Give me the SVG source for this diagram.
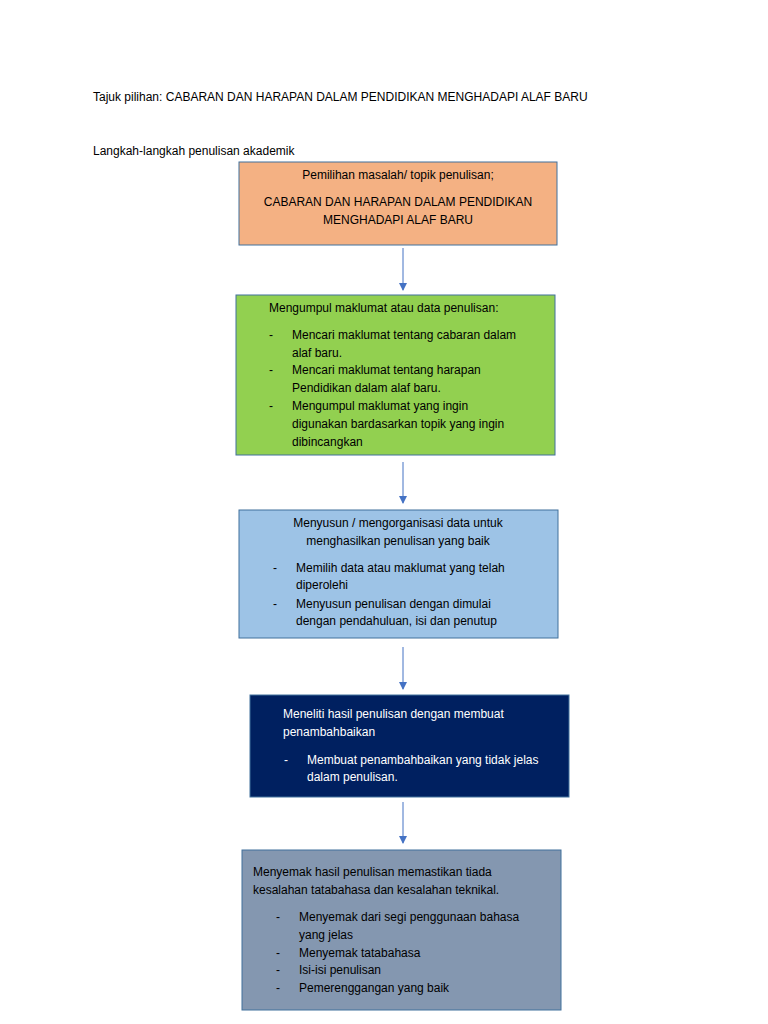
<svg xmlns="http://www.w3.org/2000/svg" width="768" height="1024" viewBox="0 0 768 1024">
<style>
text{font-family:"Liberation Sans",Arial,sans-serif;font-size:12px;fill:#000}
.w{fill:#fff}
.box{stroke:#41719C;stroke-width:1}
.c{stroke:#4472C4;stroke-width:1;fill:none}
</style>
<defs><marker id="ah" markerWidth="8" markerHeight="8" refX="7" refY="4" orient="auto" markerUnits="userSpaceOnUse"><path d="M0,0 L8,4 L0,8 z" fill="#4472C4"/></marker></defs>
<rect width="768" height="1024" fill="#fff"/>
<text x="93" y="101">Tajuk pilihan: CABARAN DAN HARAPAN DALAM PENDIDIKAN MENGHADAPI ALAF BARU</text>
<text x="93" y="155">Langkah-langkah penulisan akademik</text>
<g id="n1"><rect class="box" x="239" y="162" width="318" height="83" fill="#F4B183"/>
<text x="398" y="179" text-anchor="middle">Pemilihan masalah/ topik penulisan;</text>
<text x="398" y="206" text-anchor="middle">CABARAN DAN HARAPAN DALAM PENDIDIKAN</text>
<text x="398" y="224" text-anchor="middle">MENGHADAPI ALAF BARU</text></g>
<g id="n2"><rect class="box" x="236" y="295" width="319" height="160" fill="#92D050"/>
<text x="269" y="312">Mengumpul maklumat atau data penulisan:</text>
<text x="269" y="339">-</text><text x="292" y="339">Mencari maklumat tentang cabaran dalam</text>
<text x="292" y="357">alaf baru.</text>
<text x="269" y="374">-</text><text x="292" y="374">Mencari maklumat tentang harapan</text>
<text x="292" y="392">Pendidikan dalam alaf baru.</text>
<text x="269" y="410">-</text><text x="292" y="410">Mengumpul maklumat yang ingin</text>
<text x="292" y="428">digunakan bardasarkan topik yang ingin</text>
<text x="292" y="446">dibincangkan</text></g>
<g id="n3"><rect class="box" x="239" y="510" width="319" height="128" fill="#9DC3E6"/>
<text x="398" y="527" text-anchor="middle">Menyusun / mengorganisasi data untuk</text>
<text x="398" y="545" text-anchor="middle">menghasilkan penulisan yang baik</text>
<text x="273" y="572">-</text><text x="296" y="572">Memilih data atau maklumat yang telah</text>
<text x="296" y="589">diperolehi</text>
<text x="273" y="608">-</text><text x="296" y="608">Menyusun penulisan dengan dimulai</text>
<text x="296" y="625">dengan pendahuluan, isi dan penutup</text></g>
<g id="n4"><rect class="box" x="250" y="695" width="319" height="102" fill="#002060"/>
<text class="w" x="283" y="718">Meneliti hasil penulisan dengan membuat</text>
<text class="w" x="283" y="736">penambahbaikan</text>
<text class="w" x="284" y="764">-</text><text class="w" x="307" y="764">Membuat penambahbaikan yang tidak jelas</text>
<text class="w" x="307" y="781">dalam penulisan.</text></g>
<g id="n5"><rect class="box" x="242" y="850" width="319" height="160" fill="#8497B0"/>
<text x="253" y="876">Menyemak hasil penulisan memastikan tiada</text>
<text x="253" y="894">kesalahan tatabahasa dan kesalahan teknikal.</text>
<text x="276" y="921">-</text><text x="299" y="921">Menyemak dari segi penggunaan bahasa</text>
<text x="299" y="939">yang jelas</text>
<text x="276" y="957">-</text><text x="299" y="957">Menyemak tatabahasa</text>
<text x="276" y="974">-</text><text x="299" y="974">Isi-isi penulisan</text>
<text x="276" y="992">-</text><text x="299" y="992">Pemerenggangan yang baik</text></g>
<g id="connectors">
<line class="c" x1="403" y1="248" x2="403" y2="290" marker-end="url(#ah)"/>
<line class="c" x1="403" y1="462" x2="403" y2="503" marker-end="url(#ah)"/>
<line class="c" x1="403" y1="647" x2="403" y2="689" marker-end="url(#ah)"/>
<line class="c" x1="403" y1="802" x2="403" y2="843" marker-end="url(#ah)"/>
</g>
</svg>
